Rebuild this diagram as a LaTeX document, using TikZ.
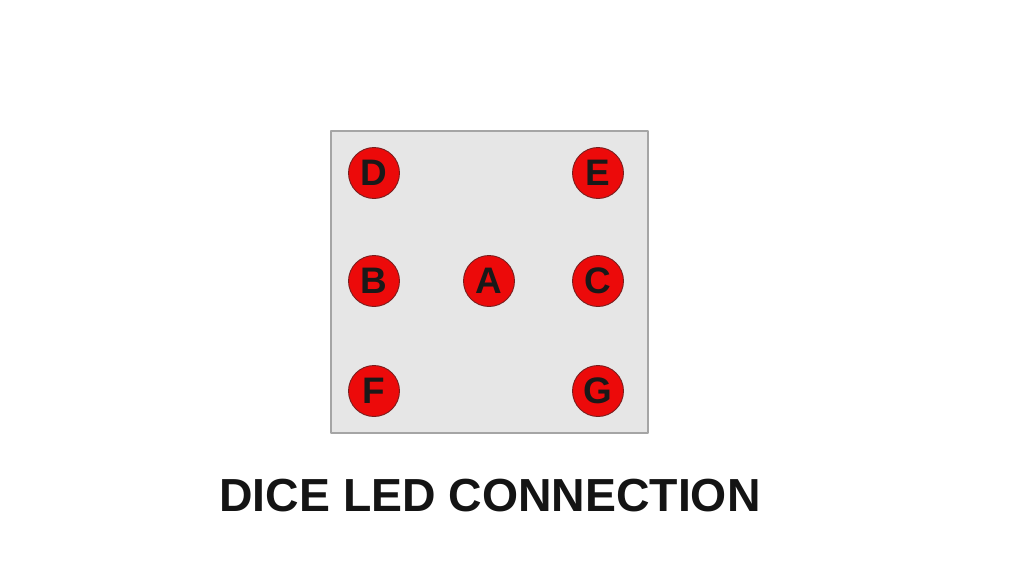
\documentclass[tikz,border=0pt]{standalone}
\usepackage{fontspec}
\setmainfont{Liberation Sans}
\usepackage{tikz}
\usetikzlibrary{positioning}
\definecolor{ledred}{RGB}{236,10,10}
\definecolor{ledrim}{RGB}{120,30,30}
\definecolor{boardgray}{RGB}{230,230,230}
\definecolor{boardrim}{RGB}{165,165,165}
\tikzset{led/.style={circle,draw=ledrim,line width=0.5pt,fill=ledred,minimum size=51*0.02cm,inner sep=0pt,font=\fontsize{21}{21}\selectfont\bfseries,text=black!90}}
\begin{document}
\begin{tikzpicture}[line cap=round,line join=round,x=0.02cm,y=-0.02cm]
                \useasboundingbox (0,0) rectangle (1024,576);
                \draw [draw=boardrim,fill=boardgray,line width=0.6pt] (331,131) rectangle (648,433);
                \node[led] (D) at (374,173) {D};
                \node[led] (E) at (598,173) {E};
                \node[led] (B) at (374,281) {B};
                \node[led] (A) at (489,281) {A};
                \node[led] (C) at (598,281) {C};
                \node[led] (F) at (374,391) {F};
                \node[led] (G) at (598,391) {G};
                \node[font=\fontsize{26.4}{26.4}\selectfont\bfseries,text=black!92] (title) at (490,496) {DICE LED CONNECTION};
            \end{tikzpicture}
\end{document}
